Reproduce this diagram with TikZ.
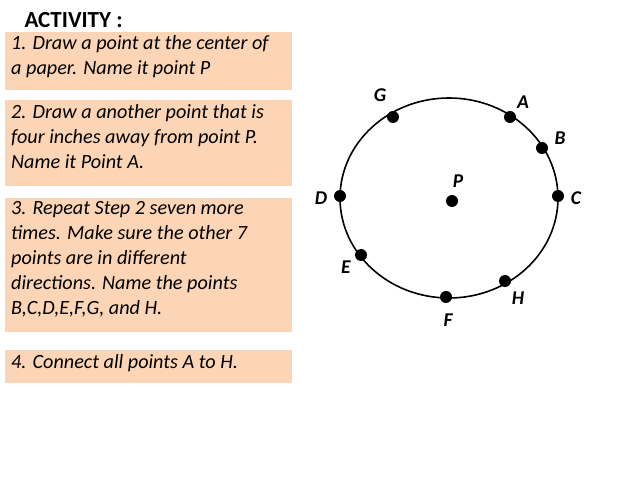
\documentclass[tikz,border=0pt]{standalone}
\usepackage{fontspec}
\setmainfont{Carlito}
\begin{document}
\begin{tikzpicture}[x=1pt,y=-1pt,
  boxtext/.style={anchor=north west,align=left,inner sep=0pt,font=\fontsize{20.2}{25}\selectfont\itshape},
  dot/.style={circle,fill=black,inner sep=0pt,minimum size=12pt},
  lab/.style={font=\fontsize{19.5}{20}\selectfont\itshape\bfseries}]
\definecolor{peach}{HTML}{FBD5B5}
\useasboundingbox (0,0) rectangle (638,478);
\node[anchor=west,font=\fontsize{23}{26}\selectfont\bfseries] (t) at (21,20) {ACTIVITY :};
\fill[peach] (5,32) rectangle (292,90);
\fill[peach] (5,100) rectangle (292,186);
\fill[peach] (5,198) rectangle (292,332);
\fill[peach] (5,350) rectangle (292,383);
\node[boxtext] (b1) at (11,35) {1. Draw a point at the center of\\a paper. Name it point P};
\node[boxtext] (b2) at (11,104) {2. Draw a another point that is\\four inches away from point P.\\Name it Point A.};
\node[boxtext] (b3) at (11,201) {3. Repeat Step 2 seven more\\times. Make sure the other 7\\points are in different\\directions. Name the points\\B,C,D,E,F,G, and H.};
\node[boxtext] (b4) at (11,354) {4. Connect all points A to H.};
\draw[line width=1.6pt] (449,198) ellipse (109 and 100);
\node[dot] (G) at (393,117) {};
\node[dot] (A) at (510,117) {};
\node[dot] (B) at (542,148) {};
\node[dot] (C) at (558,196) {};
\node[dot] (D) at (340,196) {};
\node[dot] (E) at (361,255) {};
\node[dot] (F) at (446,297) {};
\node[dot] (H) at (505,281) {};
\node[dot] (P) at (452,201) {};
\node[lab] at (380,95) {G};
\node[lab] at (523,102) {A};
\node[lab] at (560,138) {B};
\node[lab] at (576,198) {C};
\node[lab] at (321,198) {D};
\node[lab] at (346,267) {E};
\node[lab] at (448,320) {F};
\node[lab] at (518,298) {H};
\node[lab] at (458,181) {P};
\end{tikzpicture}
\end{document}
